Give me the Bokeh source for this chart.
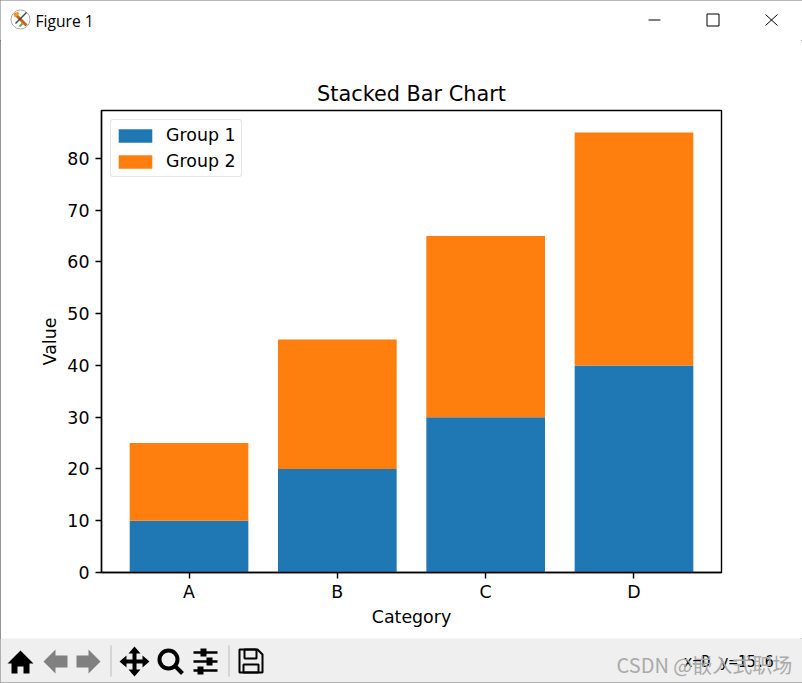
from bokeh.plotting import figure
from bokeh.layouts import column
from bokeh.embed import file_html
from bokeh.resources import INLINE
from bokeh.core.properties import value
from bokeh.models import FactorRange, Range1d

categories = ["A", "B", "C", "D"]
group_1 = [10, 20, 30, 40]
group_2 = [15, 25, 35, 45]
y_ticks = [0, 10, 20, 30, 40, 50, 60, 70, 80]
title_text = "Stacked Bar Chart"
x_title = "Category"
y_title = "Value"
window_title = "Figure 1"
status_text = "x=D y=15.6"
watermark = "CSDN @嵌入式职场"

W = 802
TOP_H, BOTTOM_H = 40, 45
MID_H = 683 - TOP_H - BOTTOM_H
FONT = "DejaVu Sans"
TICK = "17.4px"

# ---------- chart ----------
p = figure(width=W, height=MID_H, output_backend="svg", toolbar_location=None, frame_align=False,
           x_range=FactorRange(factors=categories, range_padding=0.09, range_padding_units="absolute"),
           y_range=Range1d(0, 89.25),
           min_border_left=101, min_border_right=81, min_border_top=70, min_border_bottom=66)
p.title.text = title_text
p.title.text_font = FONT
p.title.text_font_size = "20.8px"
p.title.text_font_style = "normal"
p.title.text_color = "#000000"
p.title.align = "center"
p.grid.visible = False
p.outline_line_color = "#000000"
p.outline_line_width = 1.4

for ax in (p.xaxis[0], p.yaxis[0]):
    ax.axis_line_color = "#000000"
    ax.axis_line_width = 1.4
    ax.major_tick_line_color = "#000000"
    ax.major_tick_line_width = 1.4
    ax.major_tick_in = 0
    ax.major_tick_out = 6
    ax.minor_tick_line_color = None
    ax.major_label_text_font = FONT
    ax.major_label_text_font_size = TICK
    ax.major_label_text_color = "#000000"
    ax.major_label_standoff = 6
    ax.axis_label_text_font = FONT
    ax.axis_label_text_font_size = TICK
    ax.axis_label_text_font_style = "normal"
    ax.axis_label_text_color = "#000000"
p.xaxis[0].axis_label = x_title
p.yaxis[0].axis_label = y_title
p.yaxis[0].ticker = y_ticks
p.xaxis[0].major_label_standoff = 3
p.xaxis[0].axis_label_standoff = 2
p.yaxis[0].axis_label_standoff = 4

data = dict(cat=categories, g1=group_1, g2=group_2)
p.vbar_stack(["g1", "g2"], x="cat", width=0.8, source=data,
             color=["#1f77b4", "#ff7f0e"], line_color=None,
             legend_label=["Group 1", "Group 2"])

lg = p.legend[0]
lg.location = "top_left"
lg.margin = 9
lg.padding = 3
lg.spacing = 2
lg.glyph_width = 42
lg.glyph_height = 17
lg.label_standoff = 10
lg.label_width = 72
lg.label_height = 24
lg.label_text_font = FONT
lg.label_text_font_size = TICK
lg.label_text_color = "#000000"
lg.border_line_color = "#cccccc"
lg.border_line_width = 1.4
lg.background_fill_alpha = 0.8
if "border_radius" in lg.properties():
    lg.border_radius = 3

# ---------- window chrome strips, in window pixel coordinates ----------
def strip(y0, y1, bg):
    s = figure(width=W, height=y1 - y0, output_backend="svg", toolbar_location=None, frame_align=False,
               x_range=Range1d(0, W), y_range=Range1d(y1, y0),
               x_axis_location=None, y_axis_location=None, min_border=0,
               background_fill_color=bg, border_fill_color=bg, outline_line_color=None)
    s.grid.visible = False
    return s

top = strip(0, TOP_H, "#ffffff")
bot = strip(638, 683, "#efefef")

def shape(s, pts, fill="#000000", line=None, width=1):
    xs = [a for a, b in pts]
    ys = [b for a, b in pts]
    s.patch(xs, ys, fill_color=fill, fill_alpha=1 if fill else 0, line_color=line, line_width=width)

def seg(s, x0, y0, x1, y1, color="#000000", width=1):
    s.line([x0, x1], [y0, y1], line_color=color, line_width=width)

def text(s, x, y, t, font, size, color="#000000"):
    s.text([x], [y], text=[t], text_font=value(font), text_font_size=value(size), text_color=color,
           text_align="left", text_baseline="middle")

# title bar
text(top, 35, 20, window_title, "Open Sans", "15.6px")
top.scatter([20], [19], size=19, marker="circle", fill_color=None, line_color="#aaaaaa", line_width=1)
seg(top, 14, 13, 26, 25, "#c8601c", 3)
seg(top, 26, 12, 15, 23, "#444444", 1.5)
seg(top, 14, 16, 18, 12, "#f0a020", 3)
seg(top, 19, 26, 22, 23, "#70b040", 2)
seg(top, 648, 19.5, 660, 19.5)
top.quad(left=[706.5], right=[718.5], top=[13.5], bottom=[25.5], fill_color=None, line_color="#000000")
seg(top, 765, 14, 777, 25)
seg(top, 777, 14, 765, 25)

# toolbar
shape(bot, [(20, 650), (33, 663), (29, 663), (29, 673), (23, 673), (23, 666), (17, 666), (17, 673), (11, 673), (11, 663), (7, 663)])
shape(bot, [(43, 661), (55, 649), (55, 655), (67, 655), (67, 667), (55, 667), (55, 673)], fill="#808080")
shape(bot, [(100, 661), (88, 649), (88, 655), (76, 655), (76, 667), (88, 667), (88, 673)], fill="#808080")
seg(bot, 110.5, 645, 110.5, 676, "#bbbbbb")
shape(bot, [(134, 646), (140, 653), (136, 653), (136, 659), (142, 659), (142, 655), (149, 661), (142, 667), (142, 663), (136, 663), (136, 669), (140, 669), (134, 676), (128, 669), (132, 669), (132, 663), (126, 663), (126, 667), (119, 661), (126, 655), (126, 659), (132, 659), (132, 653), (128, 653)])
bot.scatter([168], [659], size=18, marker="circle", fill_color=None, line_color="#000000", line_width=4)
seg(bot, 175, 666, 182, 673, "#000000", 4)
for y_, x0 in ((652, 200), (661, 206), (670, 197)):
    seg(bot, 193, y_, 217, y_, "#000000", 2.5)
    bot.quad(left=[x0], right=[x0 + 6], top=[y_ - 4], bottom=[y_ + 4], fill_color="#000000", line_color=None)
seg(bot, 228.5, 645, 228.5, 676, "#bbbbbb")
shape(bot, [(239, 649), (257, 649), (262, 654), (262, 672), (239, 672)], fill=None, line="#000000", width=2)
shape(bot, [(244, 649), (256, 649), (256, 658), (244, 658)], fill=None, line="#000000", width=2)
shape(bot, [(243, 664), (258, 664), (258, 672), (243, 672)], fill=None, line="#000000", width=2)
text(bot, 683, 661, status_text, "DejaVu Sans Mono", "15px")
text(bot, 616, 664, watermark, "Noto Sans CJK SC", "20px", "#aaaaaa")
seg(bot, 0, 682.5, W, 682.5, "#707070")

page = column(top, p, bot, spacing=0, styles={"outline": "1px solid #707070", "outline-offset": "-1px"})
open("out.html", "w").write(file_html(page, INLINE))
